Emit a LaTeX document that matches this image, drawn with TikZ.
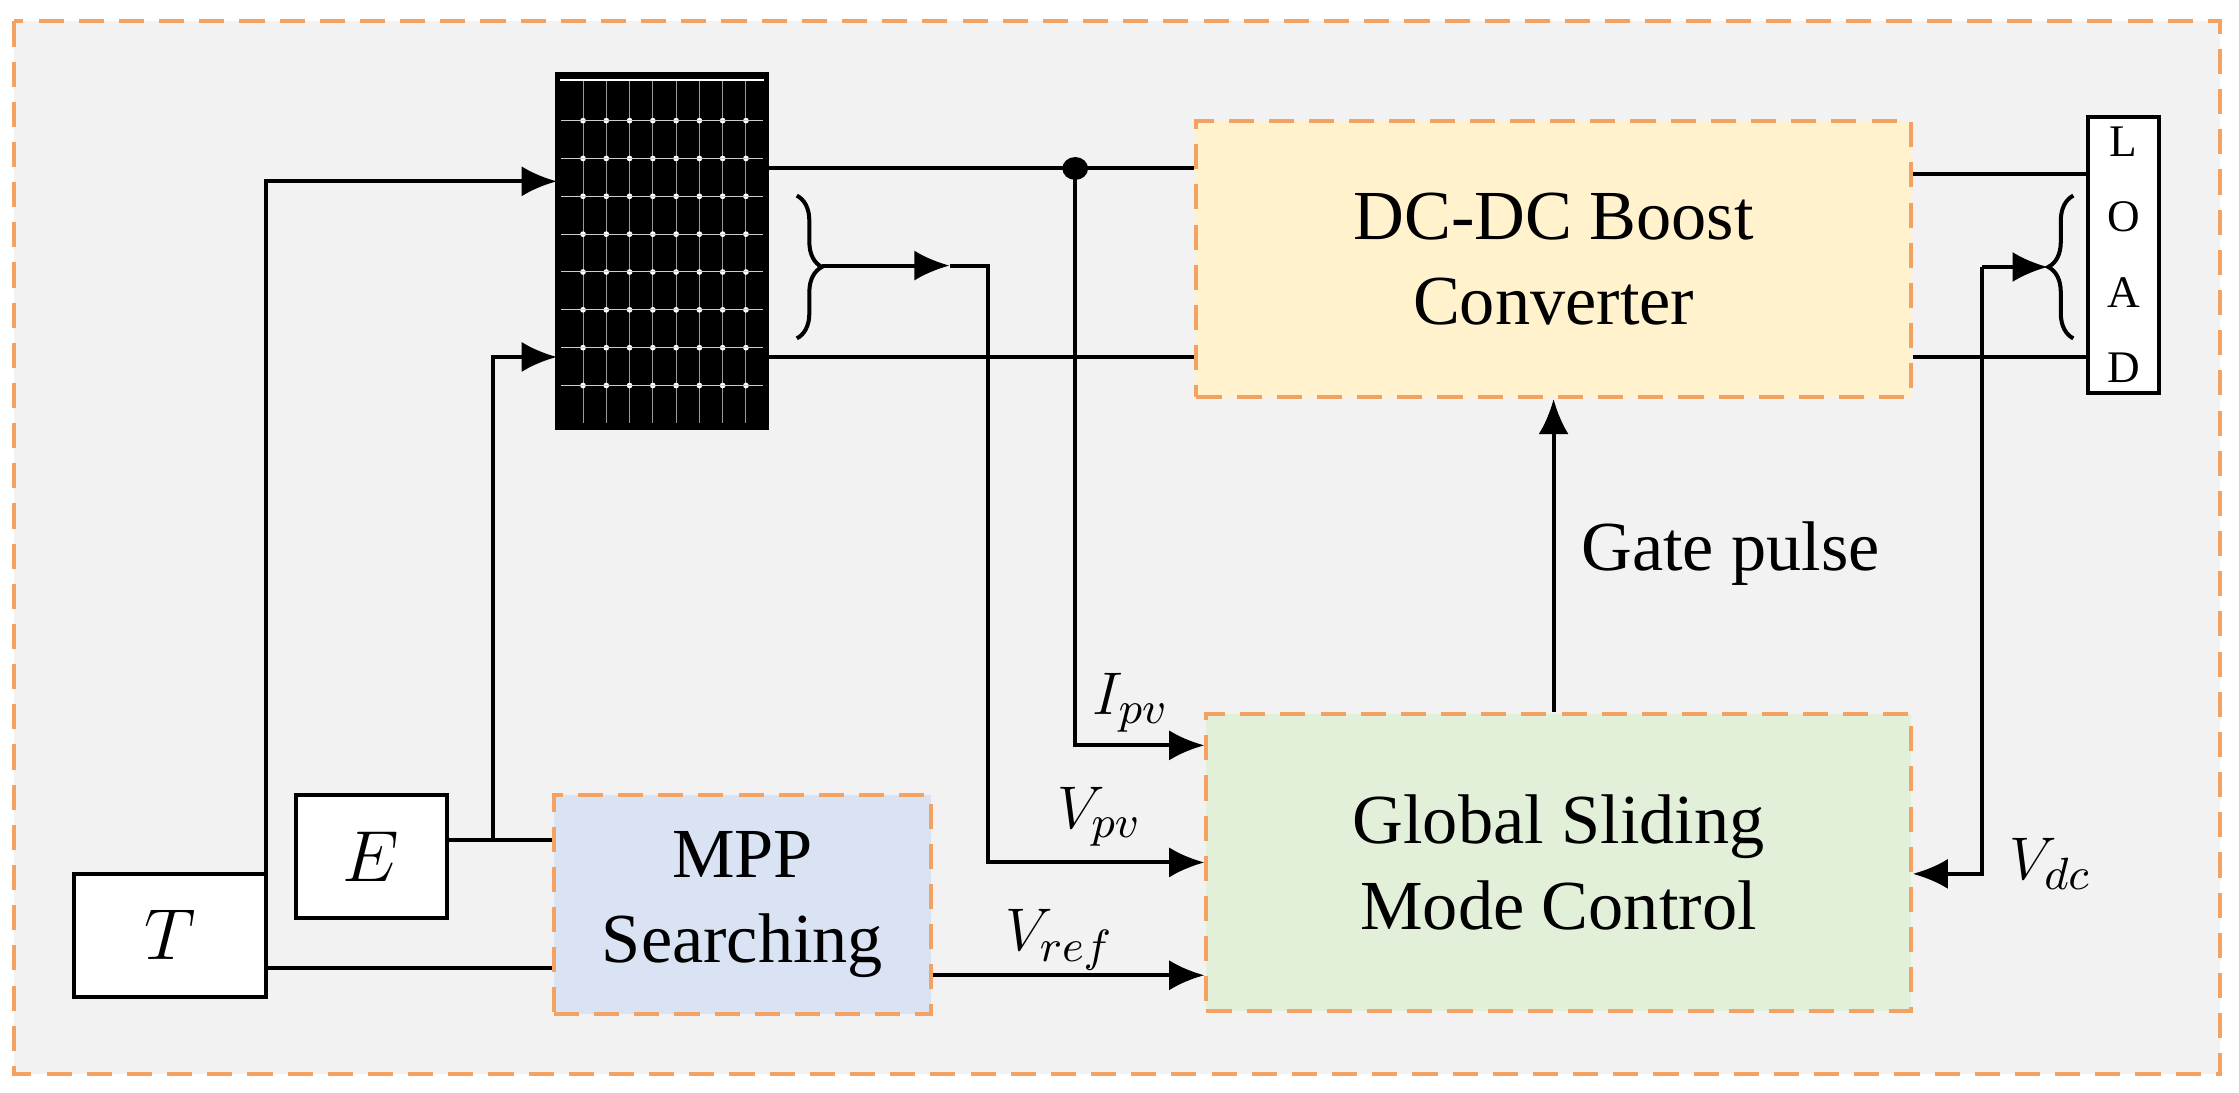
\documentclass[tikz,border=0pt]{standalone}
\usepackage{fontspec}
\setmainfont{Liberation Serif}
\usetikzlibrary{arrows.meta,positioning,decorations.pathreplacing}
\definecolor{frame orange}{HTML}{F4A261}
\definecolor{back gray}{HTML}{F2F2F2}
\definecolor{conv yellow}{HTML}{FFF2CC}
\definecolor{ctrl green}{HTML}{E2EFD9}
\definecolor{mpp blue}{HTML}{DAE3F3}
\tikzset{
    % Arrows
    arrow tip/.tip={Latex[length=7pt,width=6pt]},
    arr/.style={->,>={arrow tip}},
    wire/.style={thick},
    brace deco/.style={decorate,decoration={brace,amplitude=5pt}},
    % Blocks
    block/.style={draw=frame orange,dashed,thick,dash pattern=on 5pt off 3pt,align=center,font=\fontsize{14}{17}\selectfont,inner sep=0pt},
    plain box/.style={draw,fill=white,thick,inner sep=0pt,font=\fontsize{14}{17}\selectfont},
    sig/.style={font=\fontsize{13}{15}\selectfont},
}
\begin{document}
\begin{tikzpicture}[x=0.01cm,y=-0.01cm]
        \useasboundingbox (0,0) rectangle (1568,765);
        \fill[back gray] (10,15) rectangle (1555,752);
        \draw[block] (10,15) rectangle (1555,752);
        % solar panel
        \fill[black] (390,52) rectangle (537,300);
        \draw[thick] (390,52) rectangle (537,300);
        \foreach \i in {1,...,8} {
            \draw[white!60!black,very thin] (392+\i*16.3,56) -- (392+\i*16.3,296);
            \foreach \j in {1,...,8}
                \fill[white] (392+\i*16.3,58+\j*26.5) circle (2);
        };
        \foreach \j in {1,...,8}
            \draw[white!80!black,very thin] (393,58+\j*26.5) -- (534,58+\j*26.5);
        \draw[white,thin] (392,56) -- (535,56);
        \coordinate (pv top) at (537,118);
        \coordinate (pv bot) at (537,250);
        \coordinate (pv in1) at (390,127);
        \coordinate (pv in2) at (390,250);
        % blocks
        \node[block,fill=conv yellow,minimum width=5cm,minimum height=1.93cm] (conv) at (1088,181.5) {DC-DC Boost\\Converter};
        \node[block,fill=ctrl green,minimum width=4.93cm,minimum height=2.08cm] (gsmc) at (1091.5,604) {Global Sliding\\Mode Control};
        \node[block,fill=mpp blue,minimum width=2.64cm,minimum height=1.53cm] (mpp) at (520,633.5) {MPP\\Searching};
        \node[plain box,minimum width=1.34cm,minimum height=0.86cm] (T) at (119,655) {$T$};
        \node[plain box,minimum width=1.06cm,minimum height=0.86cm] (E) at (260,600) {$E$};
        \node[plain box,minimum width=0.5cm,minimum height=1.93cm,align=center,font=\fontsize{9}{15}\selectfont] (load) at (1487,178.5) {L\\O\\A\\D};
        % power wiring
        \draw[wire] (pv top) -- (pv top -| conv.west);
        \draw[wire] (pv bot) -- (pv bot -| conv.west);
        \draw[wire] (conv.east |- 0,122) -- (load.west |- 0,122);
        \draw[wire] (conv.east |- 0,250) -- (load.west |- 0,250);
        \fill (753,118) ellipse (9 and 8);
        % inputs to panel
        \draw[wire] (T.east |- 0,678) -- (mpp.west |- 0,678);
        \draw[wire,arr] (186,678) -- (186,127) -- (pv in1);
        \draw[wire] (E.east |- 0,588) -- (mpp.west |- 0,588);
        \draw[wire,arr] (345,588) -- (345,250) -- (pv in2);
        % measurements
        \draw[wire,brace deco] (558,137) -- (558,237);
        \coordinate (vpv) at (576,186);
        \draw[wire,arr] (vpv) -- (665,186);
        \draw[wire,arr] (665,186) -- (692,186) -- (692,604) -- (gsmc.west |- 0,604);
        \draw[wire,arr] (753,118) -- (753,522) -- (gsmc.west |- 0,522);
        \draw[wire,arr] (mpp.east |- 0,683) -- (gsmc.west |- 0,683);
        \draw[wire,brace deco] (1452,237) -- (1452,137);
        \coordinate (vdc) at (1434,187);
        \draw[wire,arr] (1388,187) -- (vdc);
        \draw[wire,arr] (1388,187) -- (1388,612) -- (gsmc.east |- 0,612);
        \draw[wire,arr] (conv.south |- gsmc.north) -- (conv.south);
        % labels
        \node[sig] at (792,492) {$I_{pv}$};
        \node[sig] at (770,572) {$V_{pv}$};
        \node[sig] at (742,658) {$V_{ref}$};
        \node[sig] at (1436,605) {$V_{dc}$};
        \node[sig,font=\fontsize{14}{17}\selectfont] at (1212,388) {Gate pulse};
\end{tikzpicture}
\end{document}
